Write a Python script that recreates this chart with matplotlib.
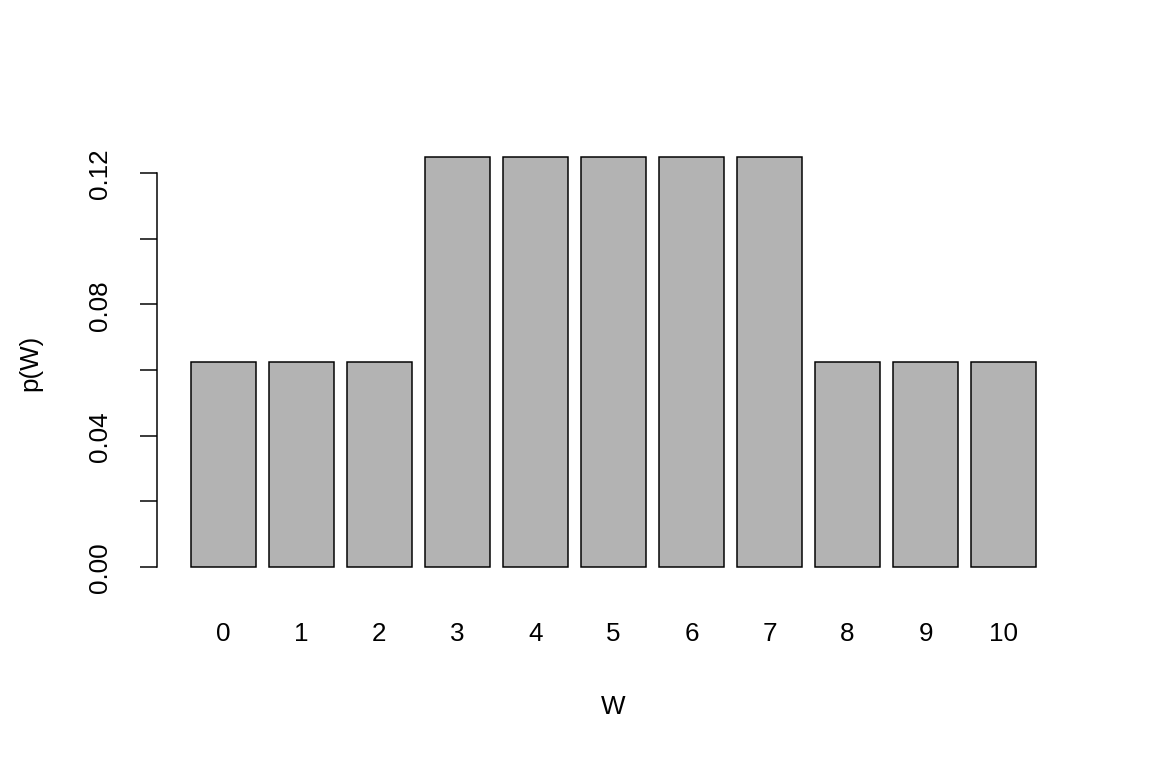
import numpy as np
import matplotlib.pyplot as plt

plt.rcParams['font.family'] = ['Liberation Sans', 'DejaVu Sans']

w_values = ['0', '1', '2', '3', '4', '5', '6', '7', '8', '9', '10']
p_w = [0.0625, 0.0625, 0.0625, 0.125, 0.125, 0.125, 0.125, 0.125, 0.0625, 0.0625, 0.0625]

# R barplot style geometry: width 1, space 0.2
centers = 0.7 + 1.2 * np.arange(len(w_values))

fig = plt.figure(figsize=(8, 5.3333), dpi=144)
ax = fig.add_axes([157 / 1152, 1 - 584.4 / 768, 913 / 1152, 443.2 / 768])

ax.bar(centers, p_w, width=1.0, color='#b3b3b3', edgecolor='black', linewidth=0.75)

ax.set_xlim(-0.32, 13.72)
ax.set_ylim(-0.005, 0.13)

for s in ['top', 'right', 'bottom']:
    ax.spines[s].set_visible(False)
ax.spines['left'].set_bounds(0, 0.12)
ax.spines['left'].set_linewidth(0.75)

yt = np.arange(0, 0.121, 0.02)
ax.set_yticks(yt)
ax.set_yticklabels(['0.00', '', '0.04', '', '0.08', '', '0.12'], rotation=90, va='center')
ax.tick_params(axis='y', length=8.5, width=0.75, pad=14, labelsize=13)

ax.set_xticks(centers)
ax.set_xticklabels(w_values)
ax.tick_params(axis='x', length=0, pad=19, labelsize=13)

ax.set_xlabel('W', fontsize=13, va='center')
ax.xaxis.set_label_coords(0.5, (584.4 - 707) / 443.2)
ax.set_ylabel('p(W)', fontsize=13, va='center')
ax.yaxis.set_label_coords((30 - 157) / 913, 0.5)

fig.savefig('out.png', dpi=144)
